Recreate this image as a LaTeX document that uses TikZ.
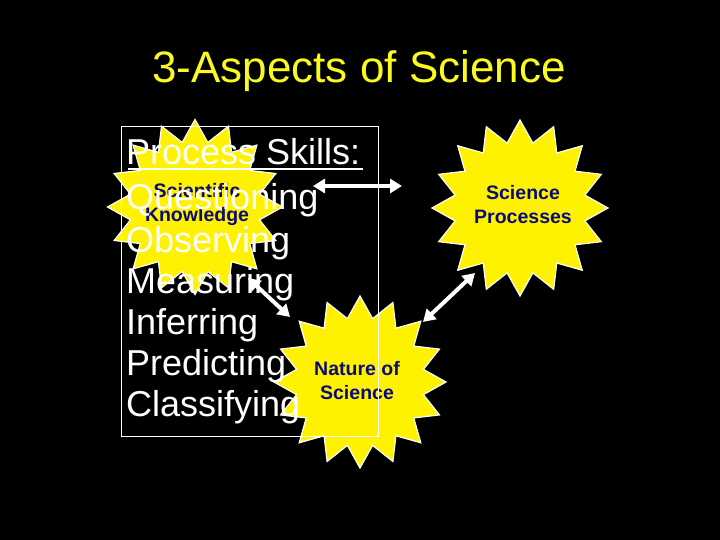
\documentclass[tikz,border=0pt]{standalone}
\usepackage{fontspec}
\setmainfont{Liberation Sans}
\usetikzlibrary{calc}
\usetikzlibrary{shapes.geometric}
\usetikzlibrary{arrows.meta}

\definecolor{starnavy}{RGB}{10,10,120}
\definecolor{titleyellow}{RGB}{250,250,30}

\tikzset{
  burst/.style={star, star points=16, star point ratio=1.33, fill=yellow,
    draw=white, line width=1.2pt, inner sep=0pt},
  burstlabel/.style={align=center, inner sep=0pt, text=starnavy,
    font=\fontsize{19.5}{24}\selectfont\bfseries},
  skill/.style={anchor=base west, inner sep=0pt, text=white,
    font=\fontsize{36}{40}\selectfont},
  link/.style={draw=white, line width=4pt,
    {Triangle[width=14pt,length=12pt]}-{Triangle[width=14pt,length=12pt]}}
}

\begin{document}
\begin{tikzpicture}[x=1pt,y=-1pt]
    \fill[black] (0,0) rectangle (720,540);
    \useasboundingbox (0,0) rectangle (720,540);
    \node[anchor=base, inner sep=0pt, text=titleyellow,
          font=\fontsize{44}{48}\selectfont] (title) at (359,83) {3-Aspects of Science};
    % the three aspects
    \node[burst, minimum size=175pt] (know) at (195,207) {};
    \node[burst, minimum size=176pt] (proc) at (520,208) {};
    \node[burst, minimum size=172pt] (nat)  at (360,382) {};
    \node[burstlabel] (knowtxt) at ($(know.center)+(2,-2)$) {Scientific\\Knowledge};
    \node[burstlabel] (proctxt) at ($(proc.center)+(3,-3)$) {Science\\Processes};
    \node[burstlabel] (nattxt)  at ($(nat.center)+(-3,-1)$) {Nature of\\Science};
    % arrow ends
    \coordinate (k1) at (313,186);
    \coordinate (p1) at (402,186);
    \coordinate (k2) at (248,278);
    \coordinate (n1) at (290,317);
    \coordinate (p2) at (475,273);
    \coordinate (n2) at (423,322);
    \draw[link] (k1) -- (p1);
    \draw[link] (k2) -- (n1);
    \draw[link] (p2) -- (n2);
    % skills list
    \draw[white, line width=0.8pt] (121,126) rectangle (378,436);
    \node[skill] (head) at (126,165) {Process Skills:};
    \draw[white, line width=2.5pt] ($(head.base west)+(2,4)$) -- ($(head.base east)+(3,4)$);
    \node[skill] (s1) at (126,210) {Questioning};
    \node[skill] (s2) at (126,252) {Observing};
    \node[skill] (s3) at (126,293) {Measuring};
    \node[skill] (s4) at (126,334) {Inferring};
    \node[skill] (s5) at (126,375) {Predicting};
    \node[skill] (s6) at (126,416) {Classifying};
\end{tikzpicture}
\end{document}
